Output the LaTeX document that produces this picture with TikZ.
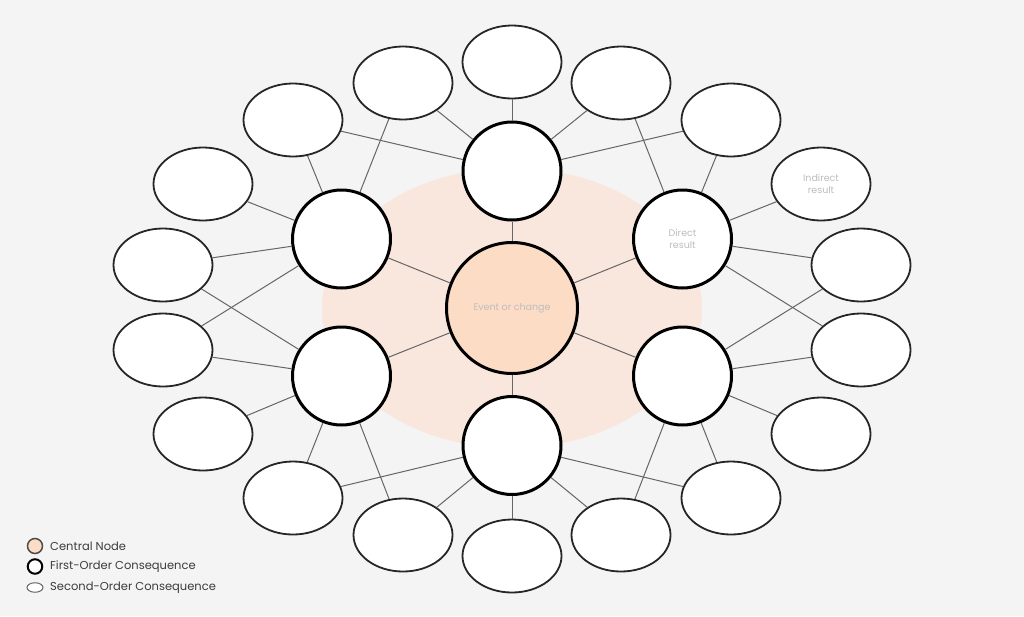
\documentclass[tikz,border=0pt]{standalone}
\usepackage{fontspec}
\setmainfont{Poppins}
\usetikzlibrary{shapes.geometric}
\definecolor{bg}{HTML}{F4F4F4}
\definecolor{halo}{HTML}{F9E7DE}
\definecolor{core}{HTML}{FDDCC6}
\definecolor{ph}{HTML}{BDBDBD}
\definecolor{lnk}{HTML}{666666}
\definecolor{legtxt}{HTML}{3C3C3C}
\begin{document}
\begin{tikzpicture}[x=1pt,y=-1pt,
  central/.style={circle,draw=black,line width=3pt,fill=core,minimum size=131pt,inner sep=0pt,
    text=ph,font=\fontsize{9.5}{12}\selectfont,align=center},
  first/.style={circle,draw=black,line width=3pt,fill=white,minimum size=98pt,inner sep=0pt,
    text=ph,font=\fontsize{9.5}{12}\selectfont,align=center},
  second/.style={ellipse,draw=black!85,line width=1.8pt,fill=white,minimum width=99pt,minimum height=73pt,inner sep=0pt,
    text=ph,font=\fontsize{9.5}{12}\selectfont,align=center},
  link/.style={draw=lnk,line width=1pt},
  legcore/.style={circle,draw=black!70,line width=1.5pt,fill=core,minimum size=15pt,inner sep=0pt},
  legfirst/.style={circle,draw=black,line width=2pt,fill=white,minimum size=14.5pt,inner sep=0pt},
  legsecond/.style={ellipse,draw=black!60,line width=1pt,fill=white,minimum width=16pt,minimum height=9.5pt,inner sep=0pt},
  legtext/.style={anchor=west,text=legtxt,font=\fontsize{11.5}{13}\selectfont,inner sep=0pt}
]
\useasboundingbox[fill=bg] (0,0) rectangle (1024,616);
\fill[halo] (512,308) ellipse [x radius=190, y radius=140];

% central node
\node[central] (c) at (512,308) {Event or change};

% first-order
\node[first] (T)  at (512,171) {};
\node[first] (UR) at (682.5,239) {Direct\\result};
\node[first] (LR) at (682.5,376) {};
\node[first] (B)  at (512,445.5) {};
\node[first] (LL) at (341.5,376) {};
\node[first] (UL) at (341.5,239) {};

% second-order
\node[second] (s1)  at (512,62) {};
\node[second] (s2)  at (621,83) {};
\node[second] (s3)  at (731,120) {};
\node[second] (s4)  at (821,184) {Indirect\\result};
\node[second] (s5)  at (861,265) {};
\node[second] (s6)  at (861,350) {};
\node[second] (s7)  at (821,434) {};
\node[second] (s8)  at (731,498) {};
\node[second] (s9)  at (621,535) {};
\node[second] (s10) at (512,556) {};
\node[second] (s11) at (403,535) {};
\node[second] (s12) at (293,498) {};
\node[second] (s13) at (203,434) {};
\node[second] (s14) at (163,350) {};
\node[second] (s15) at (163,265) {};
\node[second] (s16) at (203,184) {};
\node[second] (s17) at (293,120) {};
\node[second] (s18) at (403,83) {};

% connectors
\foreach \f in {T,UR,LR,B,LL,UL} \draw[link] (c) -- (\f);
\foreach \s in {s17,s18,s1,s2,s3} \draw[link] (T) -- (\s);
\foreach \s in {s2,s3,s4,s5,s6} \draw[link] (UR) -- (\s);
\foreach \s in {s5,s6,s7,s8,s9} \draw[link] (LR) -- (\s);
\foreach \s in {s8,s9,s10,s11,s12} \draw[link] (B) -- (\s);
\foreach \s in {s11,s12,s13,s14,s15} \draw[link] (LL) -- (\s);
\foreach \s in {s14,s15,s16,s17,s18} \draw[link] (UL) -- (\s);

% legend
\node[legcore]   (l1) at (35,546) {};
\node[legfirst]  (l2) at (35,566.5) {};
\node[legsecond] (l3) at (35,587.5) {};
\node[legtext] (t1) at (50,546) {Central Node};
\node[legtext] (t2) at (50,566.5) {First-Order Consequence};
\node[legtext] (t3) at (50,587.5) {Second-Order Consequence};
\end{tikzpicture}
\end{document}
